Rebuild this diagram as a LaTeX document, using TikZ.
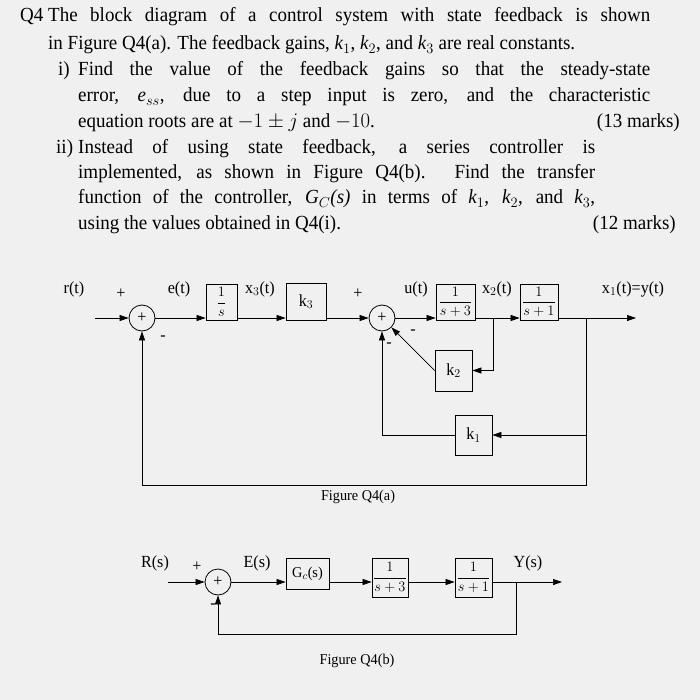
\documentclass[tikz,border=0pt]{standalone}
\usepackage{fontspec}
\setmainfont{Liberation Serif}[FakeStretch=0.95]
\usetikzlibrary{arrows.meta}
\begin{document}
\begin{tikzpicture}[x=1pt,y=-1pt,
  txt/.style={anchor=base west,inner sep=0pt,font=\fontsize{20}{22}\selectfont},
  lbl/.style={inner sep=0pt,font=\fontsize{17}{19}\selectfont},
  blk/.style={draw,line width=0.8pt,inner sep=0pt,font=\fontsize{15}{17}\selectfont},
  kblk/.style={blk,font=\fontsize{17}{19}\selectfont},
  sumc/.style={draw,circle,line width=0.8pt,minimum size=26pt,inner sep=0pt,font=\fontsize{17}{19}\selectfont},
  sig/.style={line width=0.7pt,-{Triangle[length=9pt,width=6pt]}},
  ln/.style={line width=0.7pt}]
\fill[black!6] (0,0) rectangle (700,700);
\useasboundingbox (0,0) rectangle (700,700);
% text
\node[txt] (q4) at (20,22) {Q4};
\node[txt] (l1) at (48,22) {\makebox[602pt][s]{The block diagram of a control system with state feedback is shown}};
\node[txt] (l2) at (48,50) {in Figure Q4(a). The feedback gains, \textit{k$_1$}, \textit{k$_2$}, and \textit{k$_3$} are real constants.};
\node[txt] (i) at (58,76) {i)};
\node[txt] (l3) at (78,76) {\makebox[572pt][s]{Find the value of the feedback gains so that the steady-state}};
\node[txt] (l4) at (78,102) {\makebox[572pt][s]{error, \textit{e$_{ss}$}, due to a step input is zero, and the characteristic}};
\node[txt] (l5) at (78,128) {equation roots are at $-1\pm j$ and $-10$.};
\node[txt,anchor=base east] (m1) at (680,128) {(13 marks)};
\node[txt] (ii) at (56,154) {ii)};
\node[txt] (l6) at (78,154) {\makebox[517pt][s]{Instead of using state feedback, a series controller is}};
\node[txt] (l7) at (78,179) {\makebox[517pt][s]{implemented, as shown in Figure Q4(b). Find the transfer}};
\node[txt] (l8) at (78,204) {\makebox[517pt][s]{function of the controller, \textit{G$_C$(s)} in terms of \textit{k$_1$}, \textit{k$_2$}, and \textit{k$_3$},}};
\node[txt] (l9) at (78,230) {using the values obtained in Q4(i).};
\node[txt,anchor=base east] (m2) at (676,230) {(12 marks)};
% figure a
\node[sumc] (s1) at (142,318) {+};
\node[blk,minimum width=31pt,minimum height=36pt] (b1) at (221.5,302) {$\displaystyle\frac{1}{s}$};
\node[kblk,minimum width=40pt,minimum height=37pt] (b3) at (306,301.5) {k$_3$};
\node[sumc] (s2) at (382,318) {+};
\node[blk,minimum width=39pt,minimum height=36pt] (g1) at (455.5,302) {$\displaystyle\frac{1}{s+3}$};
\node[blk,minimum width=38pt,minimum height=36pt] (g2) at (539,302) {$\displaystyle\frac{1}{s+1}$};
\node[kblk,minimum width=37pt,minimum height=41pt] (k2) at (453.5,370.5) {k$_2$};
\node[kblk,minimum width=37pt,minimum height=40pt] (k1) at (473.5,435) {k$_1$};
\coordinate (in) at (95,318);
\coordinate (bp2) at (493,318);
\coordinate (bp1) at (586,318);
\coordinate (out) at (636,318);
\draw[sig] (in) -- (s1);
\draw[sig] (s1) -- (b1.west|-s1);
\draw[sig] (b1.east|-s1) -- (b3.west|-s1);
\draw[sig] (b3.east|-s1) -- (s2);
\draw[sig] (s2) -- (g1.west|-s2);
\draw[sig] (g1.east|-s2) -- (g2.west|-s2);
\draw[sig] (g2.east|-s2) -- (out);
\draw[ln] (bp2) -- (bp2|-k2);
\draw[sig] (bp2|-k2) -- (k2.east);
\draw[sig] (k2.west) -- (s2.south east);
\draw[ln] (bp1) -- (bp1|-k1);
\draw[sig] (bp1|-k1) -- (k1.east);
\draw[sig] (k1.west) -| (s2.south);
\draw[sig] (bp1) |- (142,485) -- (s1.south);
\node[lbl] (rt) at (74,289) {r(t)};
\node[lbl] (p1) at (121,294) {+};
\node[lbl] (et) at (179,289) {e(t)};
\node[lbl] (x3) at (260,289) {x$_3$(t)};
\node[lbl] (p2) at (358,294) {+};
\node[lbl] (ut) at (416,289) {u(t)};
\node[lbl] (x2) at (497,289) {x$_2$(t)};
\node[lbl] (x1) at (633,289) {x$_1$(t)=y(t)};
\node[lbl] (m3) at (163,338) {-};
\node[lbl] (m4) at (413,332) {-};
\node[lbl] (m5) at (389,345) {-};
\node[lbl,font=\fontsize{15}{17}\selectfont] (fa) at (358,497) {Figure Q4(a)};
% figure b
\node[sumc] (s3) at (218,582) {+};
\node[blk,minimum width=43pt,minimum height=31pt] (gc) at (307.5,573.5) {G$_c$(s)};
\node[blk,minimum width=36pt,minimum height=39pt] (h1) at (390,577.5) {$\displaystyle\frac{1}{s+3}$};
\node[blk,minimum width=37pt,minimum height=39pt] (h2) at (473.5,577.5) {$\displaystyle\frac{1}{s+1}$};
\coordinate (inb) at (168,582);
\coordinate (bpb) at (516,582);
\coordinate (outb) at (562,582);
\draw[sig] (inb) -- (s3);
\draw[sig] (s3) -- (gc.west|-s3);
\draw[sig] (gc.east|-s3) -- (h1.west|-s3);
\draw[sig] (h1.east|-s3) -- (h2.west|-s3);
\draw[sig] (h2.east|-s3) -- (outb);
\draw[sig] (bpb) |- (218,634) -- (s3.south);
\node[lbl] (rs) at (155,563) {R(s)};
\node[lbl] (p3) at (197,567) {+};
\node[lbl] (es) at (257,563) {E(s)};
\node[lbl] (ys) at (528,563) {Y(s)};
\node[lbl] (m6) at (213,606) {-};
\node[lbl,font=\fontsize{15}{17}\selectfont] (fb) at (357,661) {Figure Q4(b)};
\end{tikzpicture}
\end{document}
